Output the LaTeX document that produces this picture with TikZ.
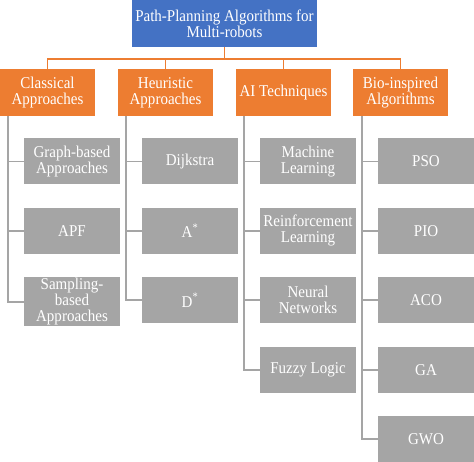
\documentclass[tikz,border=0pt]{standalone}
\usepackage{fontspec}
\setmainfont{Liberation Serif}[FakeStretch=0.91]
\usepackage{tikz}
\usetikzlibrary{calc,positioning}
\definecolor{rootblue}{RGB}{68,114,196}
\definecolor{catorange}{RGB}{237,125,49}
\definecolor{leafgrey}{RGB}{165,165,165}

\begin{document}
\begin{tikzpicture}[
  x=1pt,y=-1pt,
  font=\fontsize{16.5}{16}\selectfont,
  every node/.style={align=center,text=white,inner sep=1pt},
  rootbox/.style={fill=rootblue,minimum width=185pt,minimum height=47pt},
  catbox/.style={fill=catorange,minimum width=95pt,minimum height=47pt},
  leafbox/.style={fill=leafgrey,minimum width=96pt,minimum height=46pt},
  orangeline/.style={draw=catorange,line width=1.8pt},
  greyline/.style={draw=leafgrey,line width=1.8pt}
]
\useasboundingbox (0,0) rectangle (474,462);

% Root
\node[rootbox] (root) at (224.5,23.5) {Path-Planning Algorithms for\\Multi-robots};

% --- Categories ---
\node[catbox] (c1) at (47.5,92.5)  {Classical\\Approaches};
\node[catbox] (c2) at (165.5,92.5) {Heuristic\\Approaches};
\node[catbox] (c3) at (283.5,92.5) {AI Techniques};
\node[catbox] (c4) at (400.5,92.5) {Bio-inspired\\Algorithms};

\foreach \c in {c1,c2,c3,c4}
  \draw[orangeline] (root.south) -- ++(0,12) -| (\c.north);

% --- Classical ---
\node[leafbox] (g11) at (72,161.5) {Graph-based\\Approaches};
\node[leafbox,below=23pt of g11] (g12) {APF};
\node[leafbox,below=23pt of g12] (g13) {Sampling-\\based\\Approaches};

% --- Heuristic ---
\node[leafbox] (g21) at (190,161.5) {Dijkstra};
\node[leafbox,below=23pt of g21] (g22) {A\textsuperscript{*}};
\node[leafbox,below=23pt of g22] (g23) {D\textsuperscript{*}};

% --- AI ---
\node[leafbox] (g31) at (308,161.5) {Machine\\Learning};
\node[leafbox,below=23pt of g31] (g32) {Reinforcement\\Learning};
\node[leafbox,below=23pt of g32] (g33) {Neural\\Networks};
\node[leafbox,below=23pt of g33] (g34) {Fuzzy Logic};

% --- Bio-inspired ---
\node[leafbox] (g41) at (426,161.5) {PSO};
\node[leafbox,below=23pt of g41] (g42) {PIO};
\node[leafbox,below=23pt of g42] (g43) {ACO};
\node[leafbox,below=23pt of g43] (g44) {GA};
\node[leafbox,below=23pt of g44] (g45) {GWO};

% --- Grey branch lines ---
\foreach \g in {g11,g12,g13}
  \draw[greyline] ($(c1.south west)+(8,0)$) |- (\g.west);
\foreach \g in {g21,g22,g23}
  \draw[greyline] ($(c2.south west)+(8,0)$) |- (\g.west);
\foreach \g in {g31,g32,g33,g34}
  \draw[greyline] ($(c3.south west)+(8,0)$) |- (\g.west);
\foreach \g in {g41,g42,g43,g44,g45}
  \draw[greyline] ($(c4.south west)+(9,0)$) |- (\g.west);
\end{tikzpicture}
\end{document}
